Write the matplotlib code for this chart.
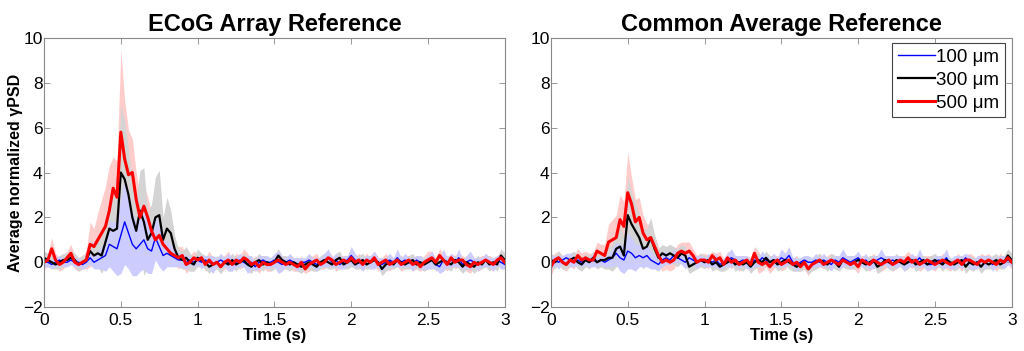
import numpy as np
import matplotlib
matplotlib.use("Agg")
import matplotlib.pyplot as plt

plt.rcParams['font.family'] = ['Liberation Sans', 'DejaVu Sans']

# time axis (s), 0.025 s steps
t = np.linspace(0, 3, 121)

# ---- ECoG Array Reference (left) ----
ecog_100 = [0.0, 0.0, -0.1, 0.0, 0.1, 0.0, 0.0, 0.1, 0.0, 0.0,
            -0.1, 0.0, 0.2, 0.0, 0.1, 0.2, 0.3, 0.8, 0.7, 0.6,
            1.2, 1.8, 1.3, 0.8, 0.6, 0.8, 1.0, 0.6, 0.5, 1.1,
            0.7, 0.3, 0.4, 0.3, 0.2, 0.1, 0.1, 0.0, 0.1, 0.0,
            0.1, 0.0, 0.1, 0.0, -0.1, 0.0, 0.1, 0.0, 0.0, -0.1,
            0.0, 0.1, 0.0, -0.1, 0.0, -0.2, 0.0, 0.1, 0.0, 0.0,
            0.1, 0.0, -0.1, 0.0, 0.1, 0.0, -0.1, 0.0, 0.0, 0.1,
            0.0, -0.1, 0.0, 0.1, 0.2, 0.0, 0.1, -0.1, 0.0, 0.1,
            0.3, 0.1, 0.0, -0.1, 0.1, 0.0, 0.1, 0.0, -0.1, 0.0,
            0.1, 0.0, 0.2, 0.0, 0.1, 0.0, -0.1, 0.1, 0.0, -0.1,
            0.0, 0.1, -0.1, -0.2, 0.1, 0.0, 0.1, 0.0, 0.2, -0.1,
            0.0, 0.1, 0.0, -0.1, 0.0, 0.1, 0.0, -0.1, 0.1, 0.0,
            -0.1]
ecog_300 = [0.2, 0.1, 0.0, -0.1, 0.0, 0.1, 0.1, 0.2, 0.1, -0.1,
            0.0, 0.1, 0.5, 0.3, 0.4, 0.3, 0.9, 1.5, 1.4, 1.5,
            4.0, 3.7, 3.0, 2.0, 1.4, 2.3, 1.8, 1.0, 1.3, 2.0,
            2.1, 1.0, 1.5, 1.3, 0.6, 0.2, 0.1, 0.2, 0.0, -0.1,
            0.2, 0.1, 0.0, -0.2, -0.1, 0.0, -0.2, 0.0, -0.1, 0.1,
            -0.1, 0.0, 0.1, -0.1, -0.2, 0.0, 0.1, -0.1, 0.0, -0.1,
            0.0, 0.3, 0.1, 0.0, -0.1, 0.0, -0.1, -0.2, -0.1, 0.0,
            -0.1, -0.2, 0.0, 0.1, 0.0, -0.1, 0.1, 0.2, -0.1, 0.0,
            0.1, -0.1, 0.0, 0.1, -0.1, 0.0, 0.1, 0.0, -0.3, -0.1,
            0.0, -0.1, 0.1, 0.0, -0.1, 0.0, 0.1, -0.1, 0.0, -0.1,
            0.0, 0.1, -0.1, 0.0, 0.1, 0.0, -0.1, 0.1, 0.0, -0.2,
            0.0, -0.1, -0.2, 0.0, -0.1, 0.1, -0.1, 0.0, -0.1, 0.3,
            0.1]
ecog_500 = [0.0, 0.1, 0.6, 0.1, -0.1, 0.0, 0.2, 0.4, 0.0, -0.1,
            0.0, 0.1, 0.8, 0.7, 1.0, 1.3, 1.6, 2.3, 3.3, 2.9,
            5.8, 4.6, 3.9, 4.0, 2.8, 2.0, 2.5, 2.0, 1.4, 1.0,
            1.2, 0.8, 0.6, 0.4, 0.3, 0.2, 0.3, -0.1, 0.0, 0.2,
            0.1, 0.2, -0.1, 0.1, -0.1, 0.0, -0.2, 0.0, 0.1, -0.1,
            0.1, 0.0, 0.2, 0.1, -0.1, 0.0, -0.2, 0.0, -0.1, -0.1,
            0.0, 0.1, 0.0, -0.1, 0.0, -0.1, -0.2, 0.0, -0.3, -0.1,
            0.0, 0.1, -0.1, 0.0, 0.2, 0.1, -0.1, 0.0, 0.1, 0.0,
            0.2, 0.0, 0.1, -0.1, 0.1, 0.0, 0.2, -0.1, 0.0, 0.1,
            -0.1, 0.0, 0.1, -0.1, 0.0, 0.1, -0.1, 0.0, -0.2, 0.0,
            0.1, 0.2, 0.0, 0.3, 0.1, -0.1, 0.2, 0.0, 0.1, 0.1,
            -0.1, -0.2, 0.0, -0.1, 0.0, 0.1, 0.0, -0.1, 0.1, 0.2,
            0.0]
ecog_100_sd = [0.2, 0.2, 0.2, 0.2, 0.2, 0.2, 0.2, 0.2, 0.2, 0.2,
               0.2, 0.2, 0.3, 0.3, 0.4, 0.5, 0.7, 1.0, 1.1, 1.2,
               1.7, 1.9, 1.6, 1.4, 1.2, 1.2, 1.3, 1.1, 1.0, 1.0,
               0.9, 0.7, 0.6, 0.5, 0.4, 0.3, 0.3, 0.3, 0.2, 0.2,
               0.2, 0.3, 0.2, 0.3, 0.4, 0.2, 0.3, 0.2, 0.4, 0.3,
               0.2, 0.3, 0.2, 0.4, 0.3, 0.2, 0.3, 0.2, 0.3, 0.2,
               0.3, 0.5, 0.3, 0.2, 0.3, 0.2, 0.3, 0.2, 0.2, 0.3,
               0.2, 0.3, 0.2, 0.3, 0.4, 0.2, 0.3, 0.2, 0.3, 0.2,
               0.4, 0.3, 0.2, 0.3, 0.2, 0.3, 0.4, 0.2, 0.3, 0.2,
               0.3, 0.2, 0.4, 0.2, 0.3, 0.2, 0.3, 0.2, 0.3, 0.2,
               0.3, 0.4, 0.2, 0.3, 0.5, 0.2, 0.3, 0.2, 0.4, 0.2,
               0.3, 0.4, 0.2, 0.3, 0.2, 0.3, 0.2, 0.3, 0.2, 0.3,
               0.2]
ecog_300_sd = [0.3, 0.3, 0.3, 0.2, 0.3, 0.3, 0.3, 0.3, 0.3, 0.3,
               0.3, 0.3, 0.5, 0.5, 0.6, 0.8, 1.0, 1.2, 1.5, 1.6,
               3.0, 2.6, 2.0, 1.6, 1.4, 1.8, 2.4, 1.2, 1.3, 1.8,
               2.0, 1.0, 1.4, 1.0, 0.6, 0.4, 0.4, 0.5, 0.4, 0.3,
               0.4, 0.3, 0.3, 0.3, 0.2, 0.3, 0.3, 0.2, 0.3, 0.3,
               0.3, 0.2, 0.3, 0.3, 0.3, 0.2, 0.3, 0.3, 0.2, 0.3,
               0.3, 0.3, 0.2, 0.3, 0.3, 0.2, 0.3, 0.3, 0.2, 0.3,
               0.3, 0.2, 0.3, 0.3, 0.3, 0.2, 0.3, 0.3, 0.2, 0.3,
               0.3, 0.2, 0.3, 0.3, 0.2, 0.3, 0.3, 0.2, 0.3, 0.3,
               0.3, 0.2, 0.3, 0.3, 0.2, 0.3, 0.3, 0.2, 0.3, 0.3,
               0.3, 0.2, 0.3, 0.3, 0.2, 0.3, 0.3, 0.2, 0.3, 0.3,
               0.3, 0.2, 0.3, 0.3, 0.2, 0.3, 0.3, 0.2, 0.3, 0.3,
               0.3]
ecog_500_sd = [0.3, 0.3, 0.5, 0.3, 0.3, 0.3, 0.3, 0.4, 0.3, 0.3,
               0.3, 0.4, 1.0, 0.8, 1.2, 1.5, 1.8, 2.0, 1.4, 1.6,
               3.7, 2.6, 2.0, 1.5, 1.2, 1.0, 1.0, 0.9, 0.8, 0.7,
               0.6, 0.6, 0.5, 0.5, 0.4, 0.5, 0.4, 0.4, 0.3, 0.3,
               0.3, 0.2, 0.3, 0.4, 0.3, 0.2, 0.3, 0.3, 0.4, 0.2,
               0.3, 0.3, 0.4, 0.3, 0.2, 0.3, 0.3, 0.2, 0.3, 0.3,
               0.2, 0.3, 0.3, 0.2, 0.3, 0.3, 0.2, 0.3, 0.2, 0.3,
               0.3, 0.3, 0.2, 0.3, 0.3, 0.2, 0.3, 0.3, 0.2, 0.3,
               0.3, 0.2, 0.3, 0.3, 0.3, 0.2, 0.3, 0.3, 0.2, 0.3,
               0.3, 0.2, 0.3, 0.3, 0.3, 0.2, 0.3, 0.3, 0.2, 0.3,
               0.4, 0.3, 0.2, 0.3, 0.3, 0.3, 0.2, 0.3, 0.3, 0.2,
               0.3, 0.3, 0.2, 0.3, 0.3, 0.2, 0.3, 0.3, 0.2, 0.3,
               0.3]

# ---- Common Average Reference (right) ----
car_100 = [0.0, 0.1, 0.0, 0.1, 0.2, 0.1, 0.0, 0.1, 0.0, 0.1,
           0.0, 0.1, 0.0, 0.1, 0.0, 0.1, 0.2, 0.4, 0.2, 0.1,
           0.5, 0.4, 0.2, 0.3, 0.2, 0.3, 0.1, 0.0, -0.1, 0.1,
           0.2, 0.1, 0.3, 0.2, 0.1, 0.0, 0.2, 0.1, 0.0, 0.1,
           0.0, 0.1, 0.0, 0.1, -0.1, 0.0, 0.1, 0.2, 0.1, 0.0,
           0.1, 0.0, -0.1, 0.1, 0.0, 0.2, 0.1, 0.0, 0.1, 0.0,
           0.2, 0.1, 0.3, 0.0, -0.1, 0.0, 0.1, 0.0, 0.0, 0.1,
           0.0, 0.1, 0.0, -0.1, 0.1, 0.0, 0.2, 0.1, 0.0, 0.1,
           0.2, 0.0, 0.1, -0.1, 0.0, 0.1, 0.2, 0.1, 0.0, 0.1,
           0.0, 0.1, -0.1, 0.0, 0.1, 0.0, 0.2, 0.0, -0.1, -0.1,
           0.0, 0.1, 0.0, 0.2, -0.1, 0.0, 0.1, 0.0, 0.2, 0.0,
           -0.1, 0.0, 0.1, 0.0, 0.1, -0.1, 0.0, 0.1, 0.0, 0.1,
           0.0]
car_300 = [0.1, 0.0, 0.2, 0.0, -0.1, 0.1, 0.2, 0.0, -0.1, 0.1,
           0.0, 0.2, 0.0, 0.1, 0.1, 0.2, 0.2, 0.6, 0.7, 0.3,
           2.1, 1.7, 1.4, 1.1, 0.6, 0.7, 1.1, 0.6, 0.2, 0.4,
           0.3, 0.4, 0.3, 0.2, 0.4, 0.3, -0.2, -0.1, 0.0, 0.1,
           0.0, 0.1, -0.1, 0.0, -0.2, -0.1, 0.0, 0.1, -0.1, 0.0,
           -0.1, 0.0, -0.2, 0.0, 0.1, 0.0, 0.2, 0.0, 0.1, -0.1,
           0.0, 0.1, 0.0, -0.1, -0.2, -0.1, 0.0, -0.3, -0.1, 0.0,
           0.1, 0.0, -0.1, 0.1, 0.0, -0.2, 0.1, 0.0, -0.1, 0.0,
           0.1, 0.0, -0.1, 0.0, 0.1, -0.2, -0.1, 0.1, 0.0, -0.1,
           0.1, 0.0, -0.1, 0.0, 0.1, -0.1, 0.0, 0.1, -0.1, 0.0,
           0.1, 0.0, -0.1, 0.1, 0.0, -0.1, 0.0, 0.1, -0.2, 0.0,
           -0.1, 0.0, -0.2, 0.0, -0.1, 0.0, 0.1, -0.1, 0.0, 0.3,
           0.1]
car_500 = [-0.2, 0.1, 0.2, 0.0, -0.1, 0.1, 0.0, 0.3, 0.1, 0.2,
           0.1, 0.1, 0.5, 0.4, 0.3, 0.9, 1.0, 1.1, 1.9, 1.6,
           3.1, 2.6, 1.8, 2.0, 1.3, 1.0, 1.1, 0.7, 0.3, 0.0,
           0.1, 0.0, 0.1, 0.4, 0.5, 0.4, 0.5, 0.3, 0.0, 0.1,
           0.1, 0.0, 0.3, 0.1, 0.2, -0.1, 0.2, 0.0, 0.1, -0.1,
           0.0, 0.1, -0.1, 0.4, 0.0, -0.1, 0.0, -0.2, 0.0, 0.1,
           -0.1, 0.0, 0.1, -0.1, 0.0, -0.2, 0.0, -0.3, -0.1, 0.0,
           0.1, -0.1, 0.0, 0.1, 0.0, -0.1, 0.1, 0.0, -0.1, 0.0,
           -0.2, 0.1, 0.0, -0.1, 0.1, 0.0, -0.1, 0.0, 0.1, -0.1,
           0.0, 0.1, 0.0, 0.2, 0.0, 0.1, -0.1, 0.0, 0.1, 0.0,
           -0.1, 0.0, 0.1, 0.0, -0.1, 0.0, 0.1, -0.1, 0.1, 0.1,
           0.0, -0.1, 0.1, 0.0, 0.1, 0.0, -0.1, 0.1, 0.0, 0.2,
           0.0]
car_100_sd = [0.3, 0.2, 0.3, 0.2, 0.2, 0.3, 0.2, 0.2, 0.2, 0.2,
              0.2, 0.3, 0.2, 0.2, 0.2, 0.3, 0.4, 0.5, 0.6, 0.6,
              0.8, 0.7, 0.6, 0.5, 0.4, 0.5, 0.4, 0.3, 0.3, 0.3,
              0.3, 0.2, 0.3, 0.2, 0.2, 0.3, 0.2, 0.2, 0.3, 0.2,
              0.2, 0.3, 0.2, 0.3, 0.2, 0.2, 0.3, 0.4, 0.2, 0.3,
              0.2, 0.3, 0.2, 0.3, 0.2, 0.3, 0.2, 0.2, 0.3, 0.2,
              0.4, 0.3, 0.4, 0.2, 0.3, 0.2, 0.2, 0.3, 0.2, 0.3,
              0.2, 0.3, 0.2, 0.3, 0.2, 0.3, 0.4, 0.2, 0.3, 0.2,
              0.3, 0.2, 0.3, 0.2, 0.3, 0.2, 0.4, 0.2, 0.3, 0.2,
              0.3, 0.2, 0.3, 0.2, 0.3, 0.2, 0.4, 0.2, 0.3, 0.2,
              0.3, 0.2, 0.3, 0.4, 0.2, 0.3, 0.2, 0.3, 0.2, 0.3,
              0.2, 0.3, 0.2, 0.3, 0.2, 0.3, 0.2, 0.2, 0.3, 0.2,
              0.2]
car_300_sd = [0.3, 0.3, 0.3, 0.3, 0.2, 0.3, 0.3, 0.3, 0.3, 0.3,
              0.3, 0.3, 0.3, 0.3, 0.4, 0.5, 0.6, 0.8, 0.9, 0.8,
              1.7, 1.4, 1.2, 1.1, 0.9, 0.8, 0.9, 0.6, 0.4, 0.4,
              0.4, 0.4, 0.4, 0.4, 0.4, 0.4, 0.3, 0.3, 0.3, 0.3,
              0.3, 0.2, 0.3, 0.3, 0.2, 0.3, 0.3, 0.2, 0.3, 0.3,
              0.3, 0.2, 0.3, 0.3, 0.3, 0.2, 0.3, 0.3, 0.2, 0.3,
              0.3, 0.2, 0.3, 0.3, 0.2, 0.3, 0.3, 0.2, 0.3, 0.3,
              0.3, 0.2, 0.3, 0.3, 0.3, 0.2, 0.3, 0.3, 0.2, 0.3,
              0.3, 0.2, 0.3, 0.3, 0.2, 0.3, 0.3, 0.2, 0.3, 0.3,
              0.3, 0.2, 0.3, 0.3, 0.2, 0.3, 0.3, 0.2, 0.3, 0.3,
              0.3, 0.2, 0.3, 0.3, 0.2, 0.3, 0.3, 0.2, 0.3, 0.3,
              0.3, 0.2, 0.3, 0.3, 0.2, 0.3, 0.3, 0.2, 0.3, 0.3,
              0.3]
car_500_sd = [0.4, 0.3, 0.3, 0.3, 0.3, 0.3, 0.3, 0.3, 0.3, 0.3,
              0.3, 0.3, 0.4, 0.4, 0.5, 0.8, 0.9, 1.0, 1.1, 1.1,
              1.8, 1.2, 1.0, 0.9, 0.8, 0.7, 0.6, 0.5, 0.4, 0.4,
              0.4, 0.4, 0.4, 0.4, 0.4, 0.5, 0.4, 0.3, 0.3, 0.3,
              0.3, 0.3, 0.2, 0.3, 0.3, 0.2, 0.3, 0.3, 0.2, 0.3,
              0.3, 0.2, 0.3, 0.3, 0.5, 0.3, 0.2, 0.3, 0.3, 0.2,
              0.3, 0.3, 0.2, 0.3, 0.3, 0.2, 0.3, 0.3, 0.2, 0.3,
              0.3, 0.2, 0.3, 0.3, 0.3, 0.2, 0.3, 0.3, 0.2, 0.3,
              0.3, 0.2, 0.3, 0.3, 0.3, 0.2, 0.3, 0.3, 0.2, 0.3,
              0.3, 0.2, 0.3, 0.3, 0.3, 0.2, 0.3, 0.3, 0.2, 0.3,
              0.3, 0.2, 0.3, 0.3, 0.3, 0.2, 0.3, 0.3, 0.2, 0.3,
              0.3, 0.2, 0.3, 0.3, 0.3, 0.2, 0.3, 0.3, 0.2, 0.3,
              0.3]

labels = ["100 \u03bcm", "300 \u03bcm", "500 \u03bcm"]
line_colors = ["#0000ff", "#000000", "#ff0000"]
band_colors = ["#ccccff", "#d4d4d4", "#ffcccc"]
line_widths = [1.0, 1.6, 2.2]

fig = plt.figure(figsize=(10.24, 3.51), dpi=100)
ax1 = fig.add_axes([0.043, 0.125, 0.450, 0.767])
ax2 = fig.add_axes([0.538, 0.125, 0.450, 0.767])

panels = [
    (ax1, "ECoG Array Reference", [ecog_100, ecog_300, ecog_500], [ecog_100_sd, ecog_300_sd, ecog_500_sd]),
    (ax2, "Common Average Reference", [car_100, car_300, car_500], [car_100_sd, car_300_sd, car_500_sd]),
]

for ax, title, means, sds in panels:
    # bands: red at the bottom, then gray, then blue
    for k in [2, 1, 0]:
        m = np.array(means[k])
        s = np.array(sds[k])
        ax.fill_between(t, m - s, m + s, color=band_colors[k], lw=0)
    for k in [0, 1, 2]:
        ax.plot(t, means[k], color=line_colors[k], lw=line_widths[k], label=labels[k])
    ax.set_xlim(0, 3)
    ax.set_ylim(-2, 10)
    ax.set_xticks([0, 0.5, 1, 1.5, 2, 2.5, 3])
    ax.set_xticklabels(["0", "0.5", "1", "1.5", "2", "2.5", "3"])
    ax.set_yticks([-2, 0, 2, 4, 6, 8, 10])
    ax.set_yticklabels(["\u22122", "0", "2", "4", "6", "8", "10"])
    ax.tick_params(direction="in", top=True, right=True, length=4, width=0.6,
                   color="#888888", labelsize=12.5)
    ax.tick_params(axis="y", pad=1)
    ax.tick_params(axis="x", pad=4)
    for sp in ax.spines.values():
        sp.set_color("#888888")
        sp.set_linewidth(0.8)
    ax.set_title(title, fontsize=17, fontweight="bold", pad=5)
    ax.set_xlabel("Time (s)", fontsize=12, fontweight="bold", labelpad=0)

ax1.set_ylabel("Average normalized \u03b3PSD", fontsize=11.5, fontweight="bold", labelpad=0)

leg = ax2.legend(loc="upper right", fontsize=13.5, handlelength=2.0, handletextpad=0.05,
                 borderpad=0.3, labelspacing=0.3, fancybox=False, framealpha=1,
                 bbox_to_anchor=(0.985, 0.98), borderaxespad=0)
leg.get_frame().set_edgecolor("#444444")
leg.get_frame().set_linewidth(0.8)

fig.savefig("out.png", dpi=100)
